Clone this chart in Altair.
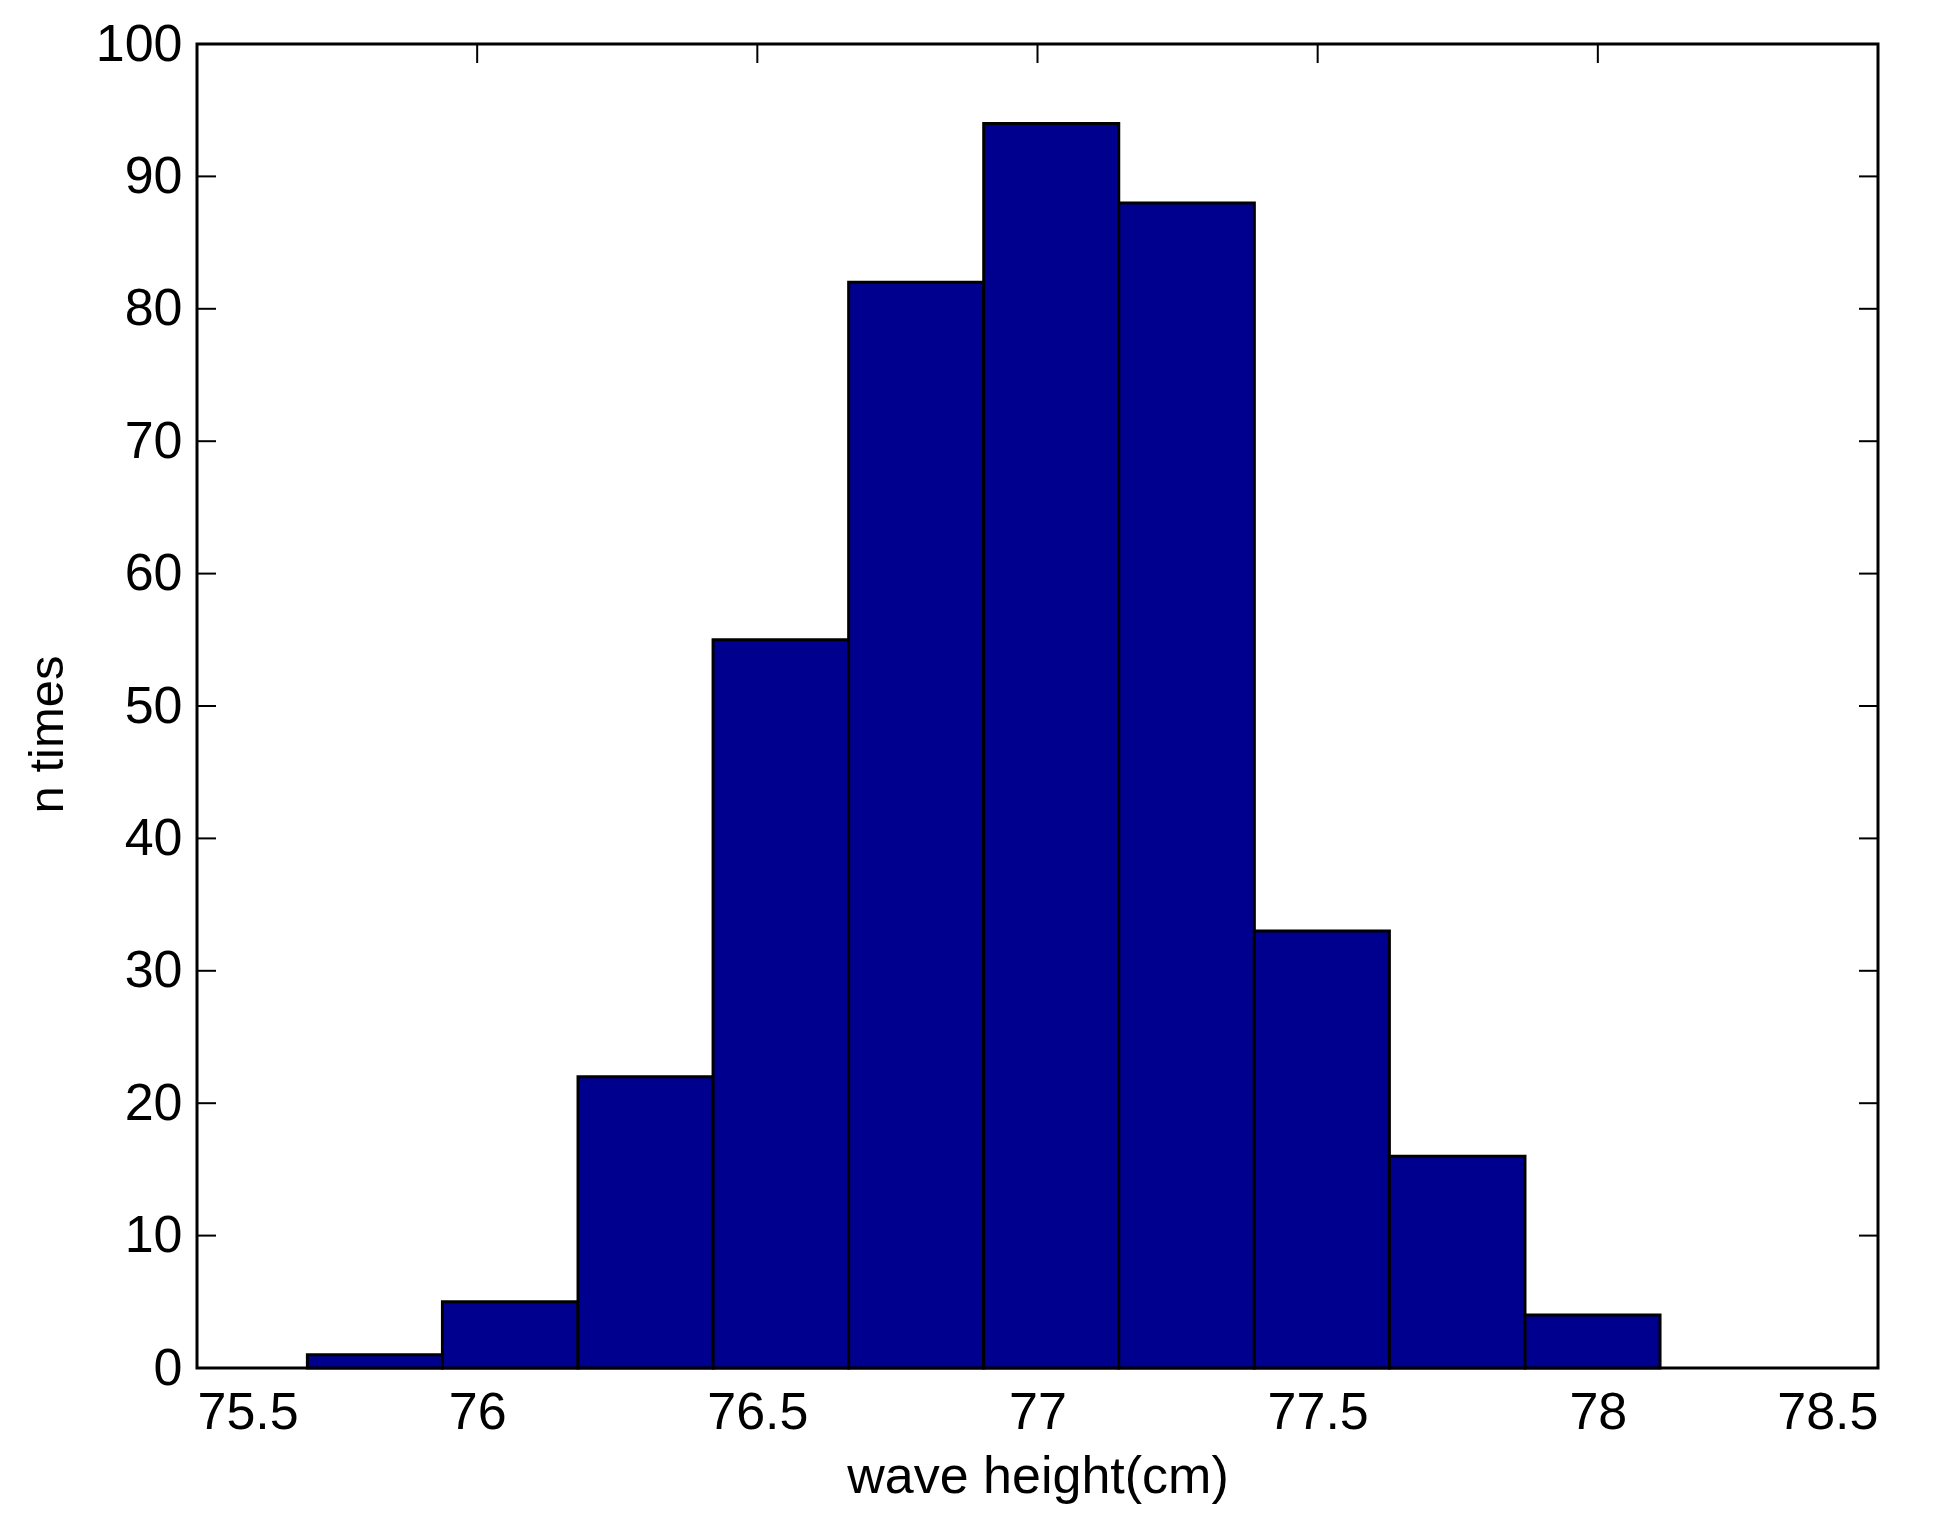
import altair as alt
import pandas as pd

# Histogram data
bin_edges = [75.697, 75.938, 76.180, 76.421, 76.663, 76.904, 77.145, 77.387, 77.628, 77.870, 78.111]
counts = [1, 5, 22, 55, 82, 94, 88, 33, 16, 4]
x_ticks = [75.5, 76.0, 76.5, 77.0, 77.5, 78.0, 78.5]
y_ticks = [0, 10, 20, 30, 40, 50, 60, 70, 80, 90, 100]

W, H = 1681, 1324
TL = 19
FONT = "Liberation Sans"
FS = 52

bars_df = pd.DataFrame({"start": bin_edges[:-1], "end": bin_edges[1:], "count": counts})
xt_df = pd.DataFrame({"v": x_ticks})
yt_df = pd.DataFrame({"v": y_ticks})

xscale = alt.Scale(domain=[75.5, 78.5], nice=False, zero=False)
yscale = alt.Scale(domain=[0, 100], nice=False)

x_axis = alt.Axis(title="wave height(cm)", values=x_ticks, format="~g",
                  labelPadding=19, titleY=124, titleBaseline="alphabetic")
y_axis = alt.Axis(title="n times", values=y_ticks, labelPadding=15,
                  titleX=-135, titleY=690, titleAngle=-90, titleFontSize=49,
                  titleBaseline="alphabetic", titleAlign="center")

tick_style = dict(color="black", strokeWidth=2)

left_ticks = alt.Chart(yt_df).mark_rule(**tick_style).encode(
    y=alt.Y("v:Q", scale=yscale, axis=y_axis, title="n times"), x=alt.value(0), x2=alt.value(TL))
right_ticks = alt.Chart(yt_df).mark_rule(**tick_style).encode(
    y=alt.Y("v:Q", scale=yscale, axis=y_axis, title="n times"), x=alt.value(W - TL), x2=alt.value(W))
bottom_ticks = alt.Chart(xt_df).mark_rule(**tick_style).encode(
    x=alt.X("v:Q", scale=xscale, axis=x_axis, title="wave height(cm)"), y=alt.value(H), y2=alt.value(H - TL))
top_ticks = alt.Chart(xt_df).mark_rule(**tick_style).encode(
    x=alt.X("v:Q", scale=xscale, axis=x_axis, title="wave height(cm)"), y=alt.value(0), y2=alt.value(TL))

bars = alt.Chart(bars_df).mark_rect(color="#00008F", stroke="black", strokeWidth=3).encode(
    x=alt.X("start:Q", scale=xscale, axis=x_axis, title="wave height(cm)"),
    x2="end:Q",
    y=alt.Y("count:Q", scale=yscale, axis=y_axis, title="n times"),
    y2=alt.datum(0),
)

chart = alt.layer(left_ticks, right_ticks, bottom_ticks, top_ticks, bars).properties(
    width=W, height=H,
    autosize=alt.AutoSizeParams(type="none"),
    padding={"left": 189, "top": 36, "right": 60, "bottom": 140},
).configure_view(
    stroke="black", strokeWidth=3
).configure_axis(
    grid=False, domain=False, ticks=False, tickSize=0,
    labelFont=FONT, labelFontSize=FS, labelColor="black",
    titleFont=FONT, titleFontSize=FS, titleColor="black", titleFontWeight="normal",
)

chart.save("out.html", embed_options={"renderer": "svg", "actions": False})
